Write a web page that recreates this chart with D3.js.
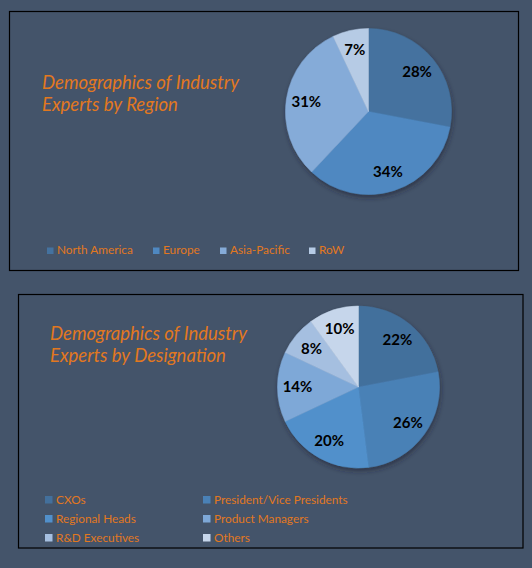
<!DOCTYPE html>
<html>
<head>
<meta charset="utf-8">
<script src="https://cdn.jsdelivr.net/npm/d3@7"></script>
<style>
  html, body { margin: 0; padding: 0; background: #44546A; }
  svg { display: block; }
</style>
</head>
<body>
<svg id="chart" width="532" height="568"></svg>
<script>
// ---- data ----
const regionCategories = ["North America", "Europe", "Asia-Pacific", "RoW"];
const regionValues = [28, 34, 31, 7];
const regionColors = ["#44729F", "#4F88C1", "#85ABD8", "#B6CBE5"];
const regionTitle = ["Demographics of Industry", "Experts by Region"];

const designationCategories = ["CXOs", "President/Vice Presidents", "Regional Heads", "Product Managers", "R&D Executives", "Others"];
const designationValues = [22, 26, 20, 14, 8, 10];
const designationColors = ["#43709C", "#4A81B6", "#5190CB", "#7EA8D7", "#A5BFE0", "#C6D6EB"];
const designationTitle = ["Demographics of Industry", "Experts by Designation"];

const svg = d3.select("#chart");
const orange = "#E2781F";
const fontFamily = "Lato, 'Open Sans', sans-serif";

// shadow filter
const defs = svg.append("defs");
const f = defs.append("filter").attr("id", "shadow")
  .attr("x", "-20%").attr("y", "-20%").attr("width", "140%").attr("height", "140%");
f.append("feDropShadow").attr("dx", 1).attr("dy", 3).attr("stdDeviation", 2.5)
  .attr("flood-color", "#1a2230").attr("flood-opacity", 0.55);

function drawPanel(cfg) {
  const g = svg.append("g");
  // panel border
  g.append("rect")
    .attr("x", cfg.box[0]).attr("y", cfg.box[1])
    .attr("width", cfg.box[2] - cfg.box[0]).attr("height", cfg.box[3] - cfg.box[1])
    .attr("fill", "#44546A").attr("stroke", "#000").attr("stroke-width", 1.2);

  // title
  const t = g.append("text")
    .attr("x", cfg.titlePos[0]).attr("y", cfg.titlePos[1])
    .attr("fill", orange).attr("font-family", fontFamily)
    .attr("font-style", "italic").attr("font-size", 18.5);
  cfg.title.forEach((line, i) => {
    t.append("tspan").attr("x", cfg.titlePos[0]).attr("dy", i === 0 ? 0 : 22).text(line);
  });

  // pie
  const pie = d3.pie().sort(null).value(d => d.value);
  const data = cfg.categories.map((c, i) => ({ name: c, value: cfg.values[i], color: cfg.colors[i] }));
  const arcs = pie(data);
  const arc = d3.arc().innerRadius(0).outerRadius(cfg.r);
  const labelArc = d3.arc().innerRadius(cfg.labelR).outerRadius(cfg.labelR);
  const pg = g.append("g").attr("transform", `translate(${cfg.center[0]},${cfg.center[1]})`);
  const slices = pg.append("g").attr("filter", "url(#shadow)");
  slices.selectAll("path").data(arcs).join("path")
    .attr("d", arc)
    .attr("fill", d => d.data.color)
    .attr("stroke", d => d.data.color).attr("stroke-width", 0.5);
  pg.selectAll("text.lbl").data(arcs).join("text")
    .attr("class", "lbl")
    .attr("transform", d => `translate(${labelArc.centroid(d)})`)
    .attr("text-anchor", "middle").attr("dy", "0.36em")
    .attr("font-family", fontFamily).attr("font-weight", "bold").attr("font-size", 15)
    .attr("fill", "#000")
    .text(d => d.data.value + "%");

  // legend
  const lg = g.append("g");
  data.forEach((d, i) => {
    const p = cfg.legendPos(i);
    lg.append("rect").attr("x", p[0]).attr("y", p[1] - cfg.sw)
      .attr("width", cfg.sw).attr("height", cfg.sw).attr("fill", d.color);
    lg.append("text").attr("x", p[0] + cfg.sw + 3.5).attr("y", p[1])
      .attr("fill", orange).attr("font-family", fontFamily).attr("font-size", 11.8)
      .text(d.name);
  });
}

const regionLegendX = [47, 153, 220, 309];
drawPanel({
  box: [9.5, 11.5, 518.5, 270.5],
  title: regionTitle,
  titlePos: [42, 89],
  categories: regionCategories,
  values: regionValues,
  colors: regionColors,
  center: [368.5, 111.5],
  r: 83,
  labelR: 63,
  sw: 6.5,
  legendPos: i => [regionLegendX[i], 254]
});

const desigLegendX = [45, 203];
const desigLegendY = [503.5, 522.5, 541.5];
drawPanel({
  box: [18.5, 294.5, 523, 548],
  title: designationTitle,
  titlePos: [50, 340],
  categories: designationCategories,
  values: designationValues,
  colors: designationColors,
  center: [358.5, 387],
  r: 81,
  labelR: 61,
  sw: 7.5,
  legendPos: i => [desigLegendX[i % 2], desigLegendY[Math.floor(i / 2)]]
});
</script>
</body>
</html>
